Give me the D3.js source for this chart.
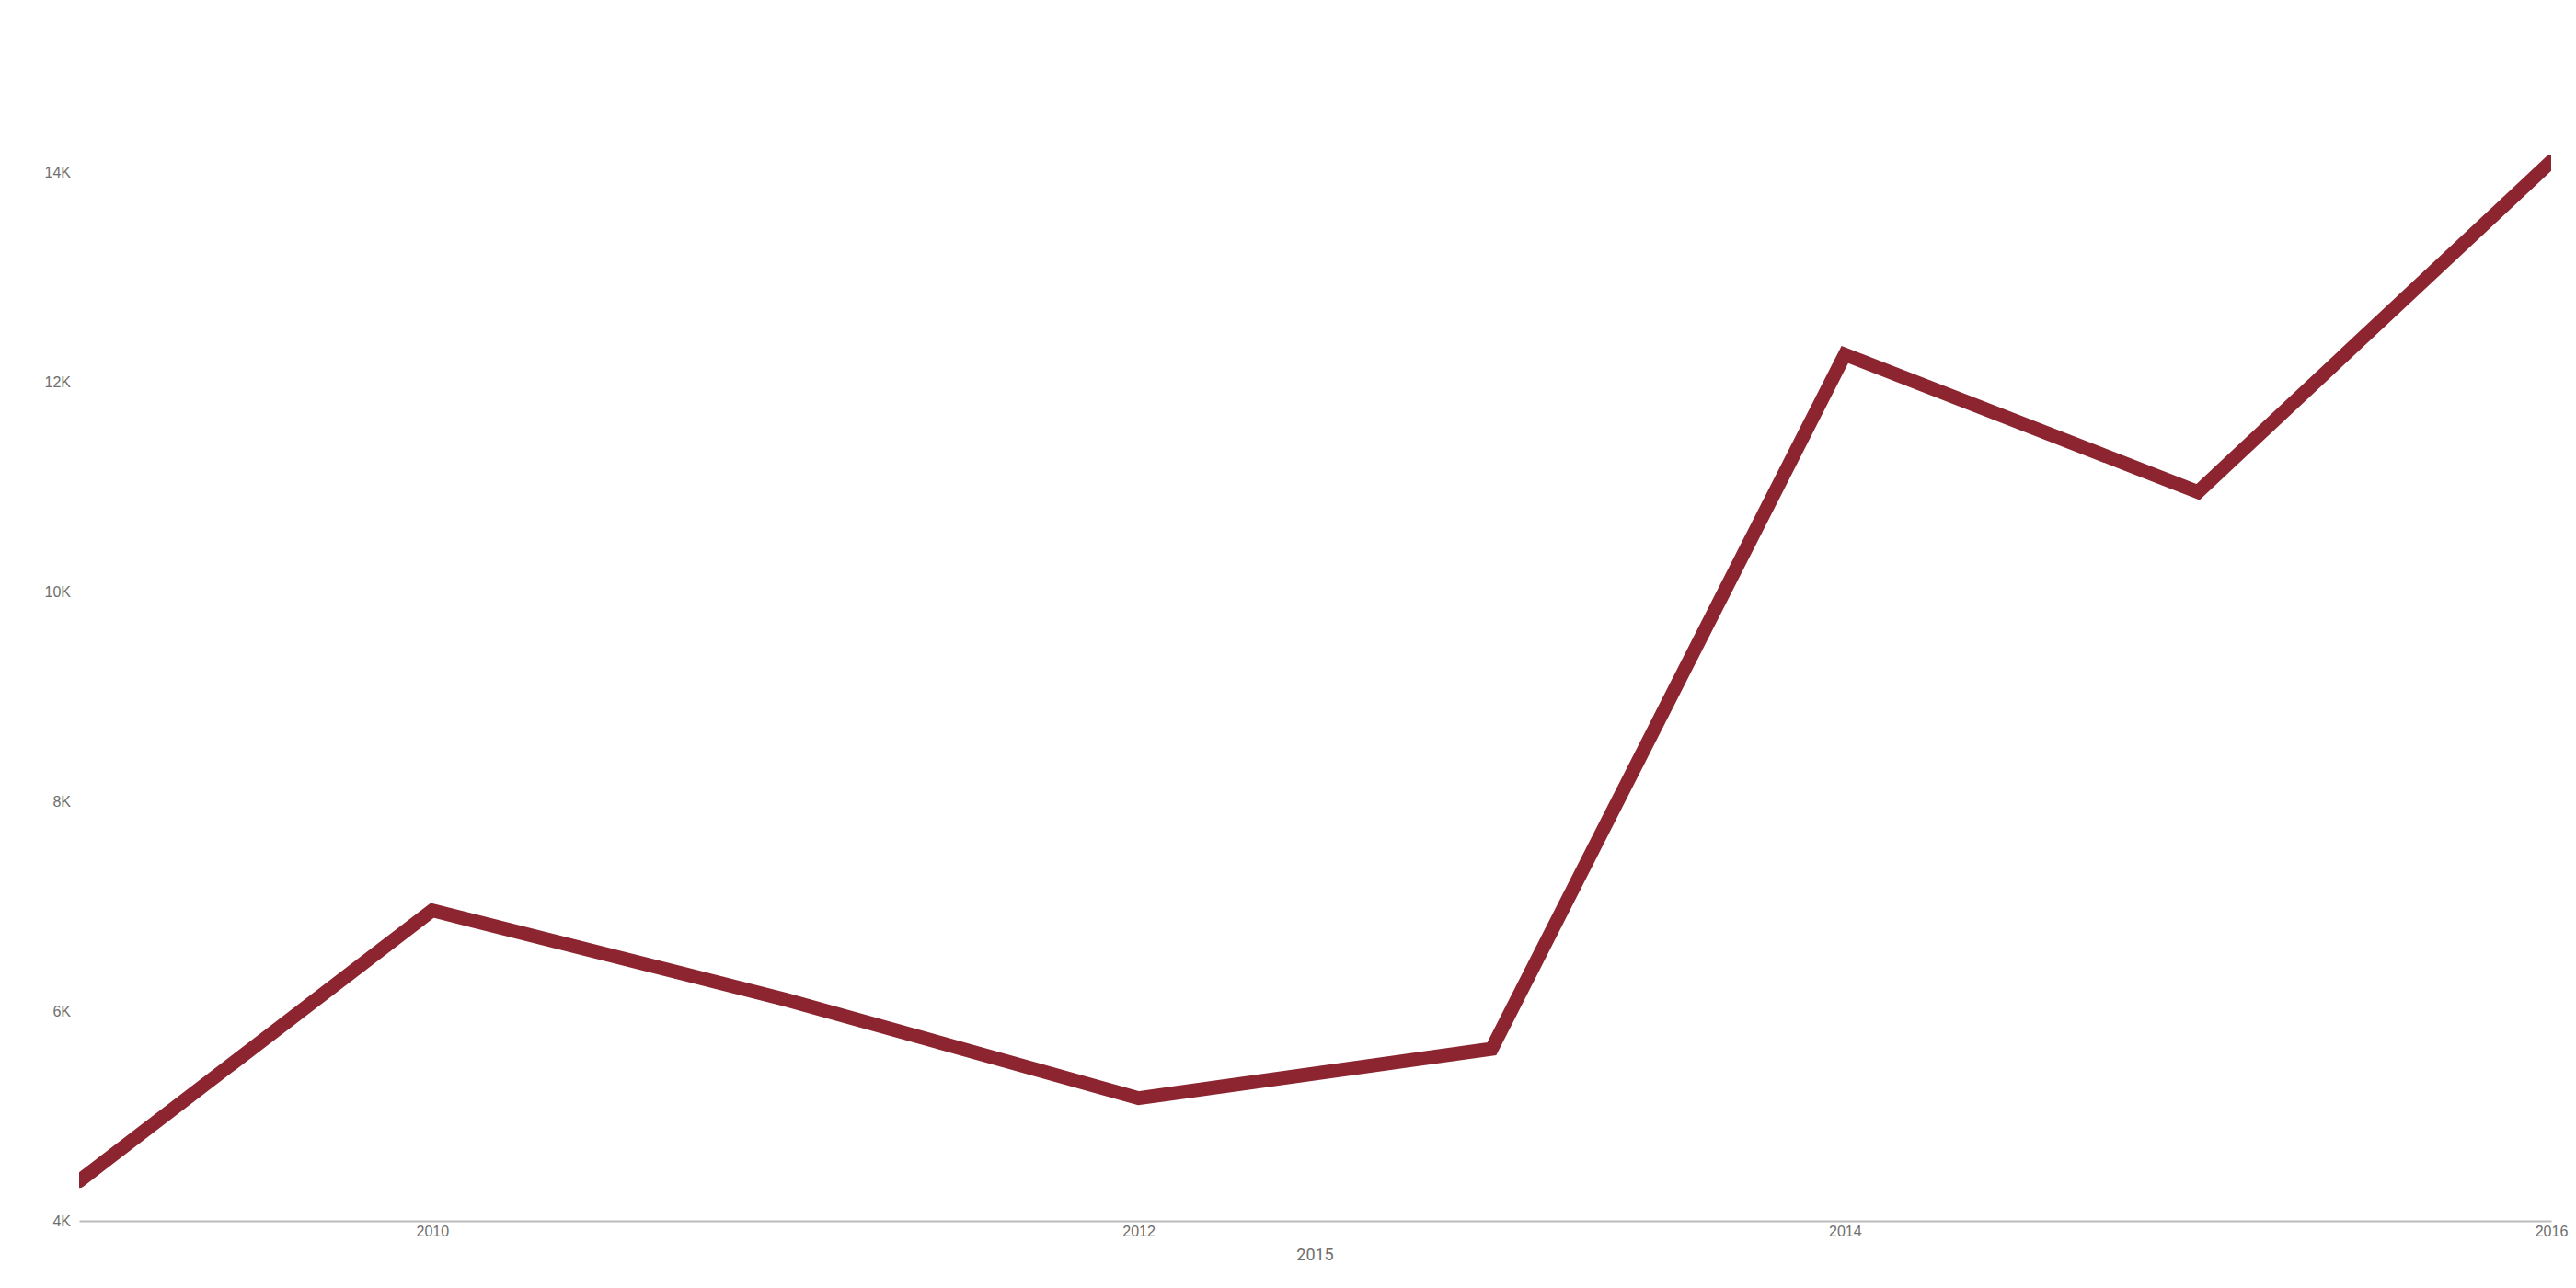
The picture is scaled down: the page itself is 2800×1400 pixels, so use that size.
<!DOCTYPE html>
<html lang="en">
<head>
    <meta charset="UTF-8">
    <title>2015</title>
    <script src="https://d3js.org/d3.v7.min.js"></script>
</head>

<style>
body {
	margin: 0;
	background: #fff;
}

svg {
	display: block;
	font-family: Roboto, "Open Sans", sans-serif;
}

.axis text {
	fill: #6e6e6e;
	font-size: 16px;
}

.axis-title {
	fill: #6e6e6e;
	font-size: 18px;
}

.trend {
	fill: none;
	stroke: #8c2530;
	stroke-width: 15;
	stroke-linejoin: miter;
	stroke-linecap: round;
}
</style>

<body>
<svg width="2800" height="1400"></svg>

<script>

	var years = [2009, 2010, 2011, 2012, 2013, 2014, 2015, 2016];
	var values = [4380, 6960, 6110, 5170, 5640, 12260, 10950, 14100];
	var yTicks = [4000, 6000, 8000, 10000, 12000, 14000];
	var xTicks = [2010, 2012, 2014, 2016];
	var axisTitle = "2015";

	var svg = d3.select("svg"),
		margins = {top: 73, right: 27, bottom: 73, left: 86};

	var width = +svg.attr("width") - margins.left - margins.right;
	var height = +svg.attr("height") - margins.top - margins.bottom;

	var g = svg.append("g")
		.attr("transform", "translate(" + margins.left + "," + margins.top + ")");

	var x = d3.scaleLinear().domain([2009, 2016]).range([0, width]);
	var y = d3.scaleLinear().domain([4000, 15000]).range([height, 0]);

	g.append("clipPath")
		.attr("id", "plot-clip")
		.append("rect")
		.attr("x", 0)
		.attr("y", -margins.top)
		.attr("width", width)
		.attr("height", height + margins.top);

	// y axis: labels only
	var yAxis = d3.axisLeft(y)
		.tickValues(yTicks)
		.tickSize(0)
		.tickPadding(9)
		.tickFormat(function(d) { return (d / 1000) + "K"; });

	g.append("g")
		.attr("class", "y axis")
		.call(yAxis)
		.call(function(s) { s.select(".domain").remove(); });

	// x axis: grey baseline + labels
	var xAxis = d3.axisBottom(x)
		.tickValues(xTicks)
		.tickSize(0)
		.tickPadding(6)
		.tickFormat(d3.format("d"));

	var xg = g.append("g")
		.attr("class", "x axis")
		.attr("transform", "translate(0," + height + ")")
		.call(xAxis);

	xg.select(".domain")
		.attr("stroke", "#bbb")
		.attr("stroke-width", 2);

	g.append("text")
		.attr("class", "axis-title")
		.attr("x", width / 2)
		.attr("y", height + 43)
		.attr("text-anchor", "middle")
		.text(axisTitle);

	var line = d3.line()
		.x(function(d, i) { return x(years[i]); })
		.y(function(d) { return y(d); });

	g.append("path")
		.datum(values)
		.attr("class", "trend")
		.attr("clip-path", "url(#plot-clip)")
		.attr("d", line);

</script>
</body>
</html>
